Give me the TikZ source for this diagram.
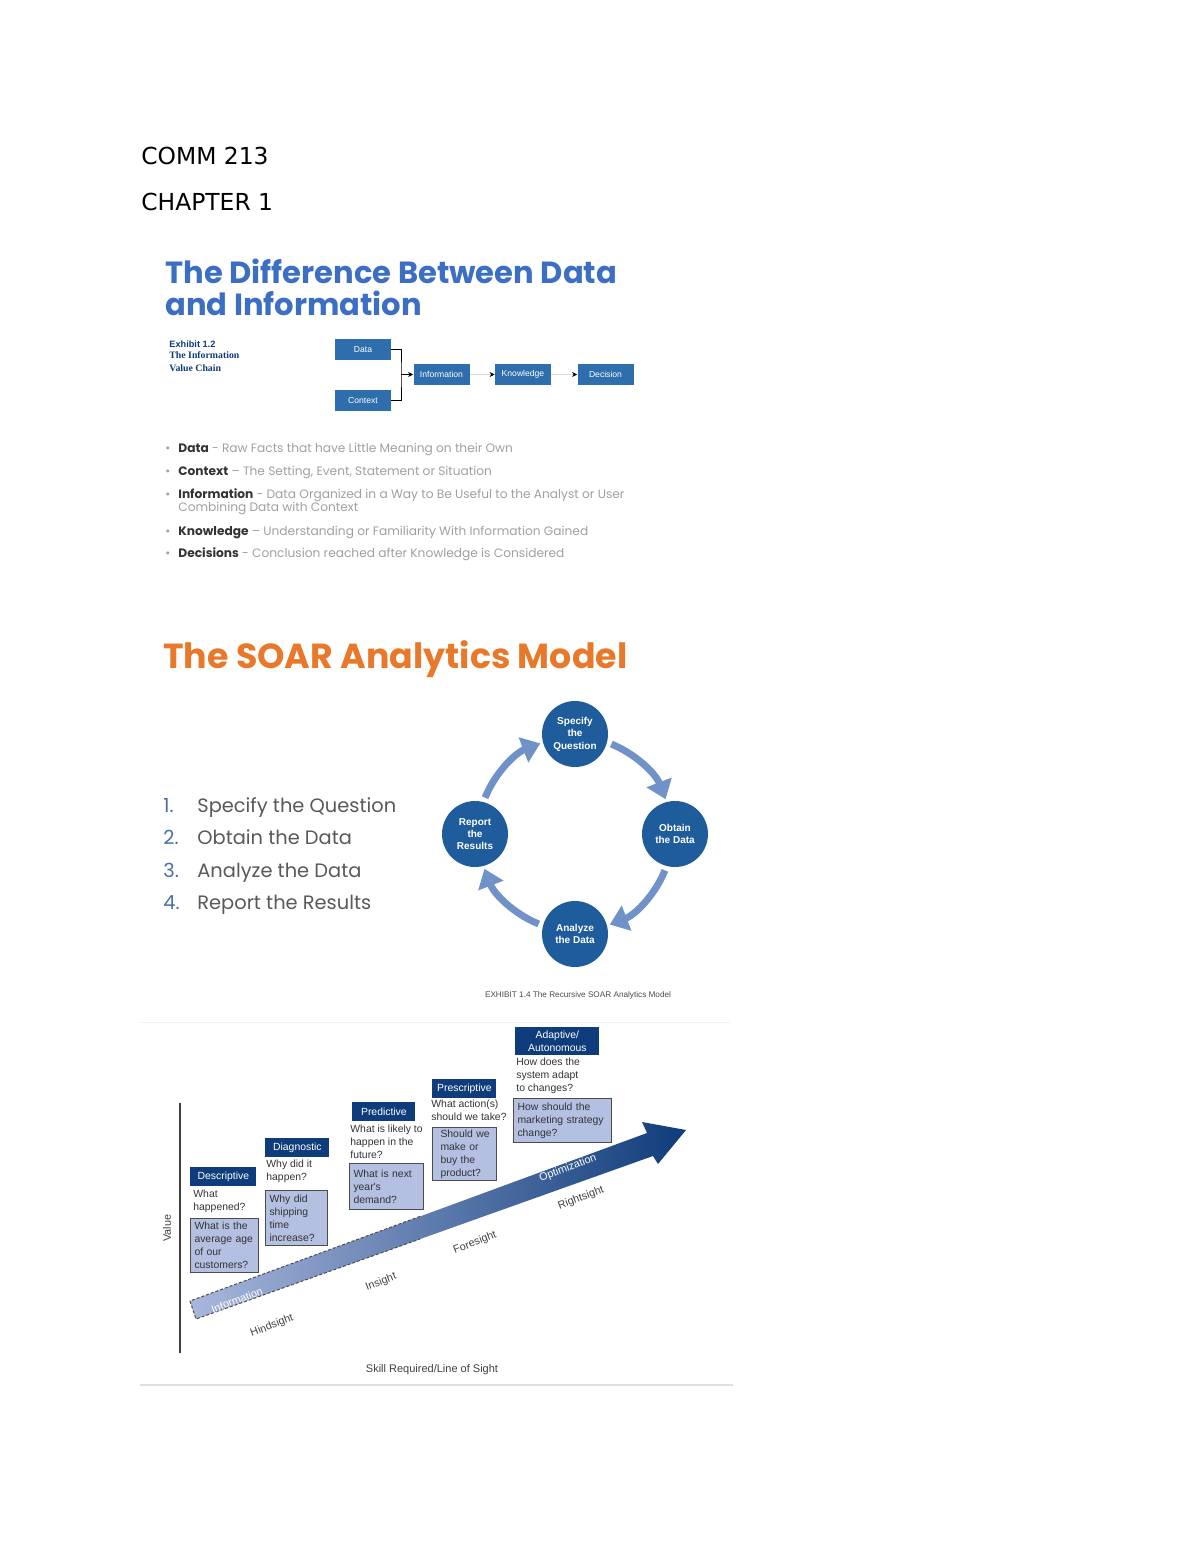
\documentclass[tikz,border=0pt]{standalone}
\usepackage{fontspec}
\setmainfont{DejaVu Sans}
\newfontfamily\popfont{Poppins}
\newfontfamily\arialfont{Liberation Sans}
\newfontfamily\timesfont{Liberation Serif}
\usetikzlibrary{arrows.meta,calc}
\definecolor{titleblue}{HTML}{3C6EC4}
\definecolor{titleorange}{HTML}{E8792B}
\definecolor{chainblue}{HTML}{2F6EAC}
\definecolor{soarblue}{HTML}{1E5C9B}
\definecolor{loopblue}{HTML}{7092C8}
\definecolor{navy}{HTML}{0F3C7B}
\definecolor{qfill}{HTML}{B4C0E2}
\definecolor{bandlight}{HTML}{A9B7DC}
\definecolor{listnum}{HTML}{4A6FA5}
\newcommand\chartfont{\arialfont\fontsize{5.2}{6.5}\selectfont}
\newcommand\term[1]{\textcolor{black!80}{\bfseries #1}}

\begin{document}
\begin{tikzpicture}[x=0.5pt,y=-0.5pt,
  chainbox/.style={fill=chainblue,text=white,minimum width=28pt,minimum height=10.5pt,inner sep=0pt,font=\arialfont\fontsize{4.3}{5}\selectfont},
  chainline/.style={draw=gray!30,line width=0.3pt,-{Stealth[length=2.5pt,width=2.5pt,color=black]}},
  soar/.style={circle,fill=soarblue,text=white,minimum size=33pt,inner sep=0pt,align=center,font=\arialfont\bfseries\fontsize{5}{6.2}\selectfont},
  looparrow/.style={draw=loopblue,line width=3.5pt,-{Triangle[length=9pt,width=13pt]}},
  bul/.style={anchor=base west,inner sep=0pt,text=gray!75,font=\popfont\fontsize{6.1}{6.5}\selectfont},
  hdrbox/.style={fill=navy,text=white,anchor=north west,inner sep=0pt,minimum height=9.5pt,align=center,font=\chartfont},
  qtext/.style={anchor=north west,inner sep=0pt,align=left,text=black!80,font=\chartfont},
  qbox/.style={draw=gray!60!black,line width=0.5pt,fill=qfill,anchor=north west,inner xsep=2pt,inner ysep=1pt,align=left,text=black!80,font=\chartfont},
  sightlbl/.style={rotate=21,text=black!75,inner sep=0pt,font=\arialfont\fontsize{5.4}{6}\selectfont}]

\useasboundingbox (0,0) rectangle (1200,1553);

\node[anchor=base west,inner sep=0pt,font=\fontsize{11.7}{14}\selectfont] (course) at (141,164) {COMM 213};
\node[anchor=base west,inner sep=0pt,font=\fontsize{11.7}{14}\selectfont] (chapter) at (141,210) {CHAPTER 1};

% value chain
\node[anchor=base west,inner sep=0pt,text=titleblue,font=\popfont\bfseries\fontsize{15.3}{16}\selectfont] (title1a) at (165,283) {The Difference Between Data};
\node[anchor=base west,inner sep=0pt,text=titleblue,font=\popfont\bfseries\fontsize{15.3}{16}\selectfont] (title1b) at (165,315) {and Information};
\node[anchor=base west,inner sep=0pt,text=navy,font=\arialfont\bfseries\fontsize{4.6}{5}\selectfont] (exh) at (169,347) {Exhibit 1.2};
\node[anchor=north west,inner sep=0pt,align=left,text=navy,font=\timesfont\bfseries\fontsize{4.9}{6.5}\selectfont] (exhname) at (169,351) {The Information\\Value Chain};

\node[chainbox] (data) at (363,349.5) {Data};
\node[chainbox] (context) at (363,400.5) {Context};
\node[chainbox] (info) at (441.5,374.5) {Information};
\node[chainbox] (know) at (523,374.5) {Knowledge};
\node[chainbox] (dec) at (605.5,374.5) {Decision};
\coordinate (brk) at (401,374.5);
\draw[line width=0.4pt] (data.east) -| (brk) |- (context.east);
\draw[line width=0.3pt,-{Stealth[length=2.5pt,width=2.5pt]}] (brk) -- (info.west);
\draw[chainline] (info) -- (know);
\draw[chainline] (know) -- (dec);

\node[bul] (dot1) at (165,452) {•};
\node[bul] (dot2) at (165,475) {•};
\node[bul] (dot3) at (165,498) {•};
\node[bul] (dot4) at (165,535) {•};
\node[bul] (dot5) at (165,557) {•};
\node[bul] (def1) at (178,452) {\term{Data} - Raw Facts that have Little Meaning on their Own};
\node[bul] (def2) at (178,475) {\term{Context} – The Setting, Event, Statement or Situation};
\node[bul] (def3) at (178,498) {\term{Information} - Data Organized in a Way to Be Useful to the Analyst or User};
\node[bul] (def3b) at (178,511) {Combining Data with Context};
\node[bul] (def4) at (178,535) {\term{Knowledge} – Understanding or Familiarity With Information Gained};
\node[bul] (def5) at (178,557) {\term{Decisions} - Conclusion reached after Knowledge is Considered};

% SOAR
\node[anchor=base west,inner sep=0pt,text=titleorange,font=\popfont\bfseries\fontsize{17.4}{18}\selectfont] (title2) at (163,668) {The SOAR Analytics Model};
\foreach \t [count=\i] in {Specify the Question,Obtain the Data,Analyze the Data,Report the Results}{
  \node[anchor=base west,inner sep=0pt,text=listnum,font=\popfont\fontsize{9.7}{10}\selectfont] (num\i) at (163,{812+32.5*(\i-1)}) {\i.};
  \node[anchor=base west,inner sep=0pt,text=black!65,font=\popfont\fontsize{9.7}{10}\selectfont] (item\i) at (197,{812+32.5*(\i-1)}) {\t};
}
\coordinate (hub) at (575,834);
\node[soar] (spec) at (575,734) {Specify\\the\\Question};
\node[soar] (obtain) at (675,834) {Obtain\\the Data};
\node[soar] (analyze) at (575,934) {Analyze\\the Data};
\node[soar] (report) at (475,834) {Report\\the\\Results};
\draw[looparrow] ($(hub)+(-68:97)$) arc[start angle=-68,end angle=-21,radius=97];
\draw[looparrow] ($(hub)+(22:97)$) arc[start angle=22,end angle=69,radius=97];
\draw[looparrow] ($(hub)+(112:97)$) arc[start angle=112,end angle=159,radius=97];
\draw[looparrow] ($(hub)+(202:97)$) arc[start angle=202,end angle=249,radius=97];
\node[inner sep=0pt,text=black!70,font=\arialfont\fontsize{4.1}{4.5}\selectfont] (caption) at (578,995) {EXHIBIT 1.4 The Recursive SOAR Analytics Model};

% analytics chart
\draw[gray!10,line width=0.5pt] (140,1022) -- (730,1022);
\draw[gray!25,line width=0.8pt] (140,1385) -- (733,1385);
\draw[gray!50!black,line width=0.9pt] (180,1103) -- (180,1353);
\shade[left color=bandlight,right color=navy] (190,1301) -- (647,1133) -- (642,1122) -- (686,1130) -- (658,1164) -- (653,1156) -- (196,1319) -- cycle;
\draw[gray!60!black,line width=0.5pt,dash pattern=on 1.5pt off 1pt] (420,1216.4) -- (190,1301) -- (196,1319) -- (420,1239);
\node[rotate=21,inner sep=0pt,text=white,font=\arialfont\fontsize{5.4}{6}\selectfont] (infolbl) at (237,1300) {Information};
\node[rotate=21,inner sep=0pt,text=white,font=\arialfont\fontsize{5.4}{6}\selectfont] (optlbl) at (568,1168) {Optimization};
\node[sightlbl] (hind) at (272,1326) {Hindsight};
\node[sightlbl] (ins) at (381,1282) {Insight};
\node[sightlbl] (fore) at (475,1243) {Foresight};
\node[sightlbl] (right) at (581,1198) {Rightsight};
\node[rotate=90,inner sep=0pt,text=black!75,font=\arialfont\fontsize{5.4}{6}\selectfont] (value) at (167,1228) {Value};
\node[inner sep=0pt,text=black!75,font=\arialfont\fontsize{5.5}{6}\selectfont] (skill) at (432,1370) {Skill Required/Line of Sight};

\node[hdrbox,minimum width=33pt] (desc) at (190,1167) {Descriptive};
\node[qtext] (descq) at (193,1190) {What\\happened?};
\node[qbox,text width=30pt,minimum height=27pt] (descb) at (190,1218) {What is the\\average age\\of our\\customers?};

\node[hdrbox,minimum width=32pt] (diag) at (265,1138) {Diagnostic};
\node[qtext] (diagq) at (266,1160) {Why did it\\happen?};
\node[qbox,text width=27pt,minimum height=27.5pt] (diagb) at (265,1190) {Why did\\shipping\\time\\increase?};

\node[hdrbox,minimum width=31.5pt] (pred) at (352,1102) {Predictive};
\node[qtext] (predq) at (350,1125) {What is likely to\\happen in the\\future?};
\node[qbox,text width=33pt,minimum height=23pt] (predb) at (349,1163) {What is next\\year's\\demand?};

\node[hdrbox,minimum width=32pt] (presc) at (432,1079) {Prescriptive};
\node[qtext] (prescq) at (431,1100) {What action(s)\\should we take?};
\node[qbox,text width=28pt,minimum height=26.5pt] (prescb) at (432,1127) {\hspace{2pt}Should we\\\hspace{2pt}make or\\\hspace{2pt}buy the\\\hspace{2pt}product?};

\node[hdrbox,minimum width=42pt,minimum height=14pt] (adapt) at (515,1027) {Adaptive/\\Autonomous};
\node[qtext] (adaptq) at (516,1058) {How does the\\system adapt\\to changes?};
\node[qbox,text width=45pt,minimum height=22pt] (adaptb) at (513,1098) {How should the\\marketing strategy\\change?};
\end{tikzpicture}
\end{document}
